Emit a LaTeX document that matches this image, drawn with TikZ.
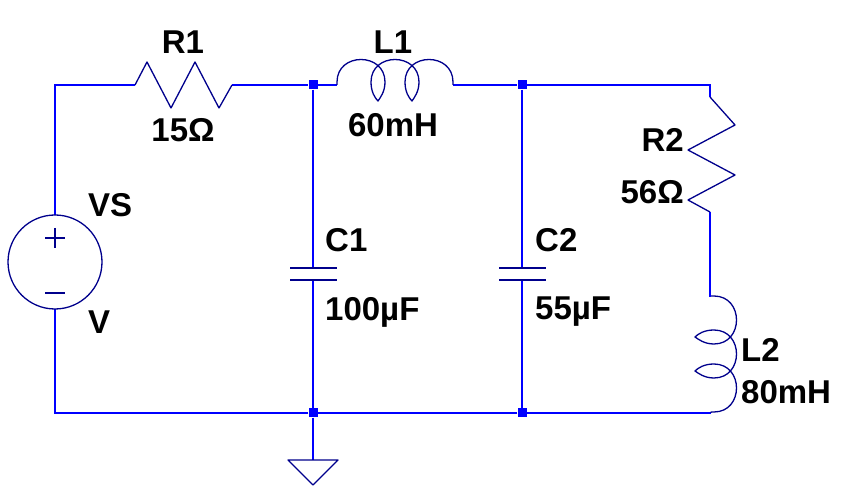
\documentclass[tikz,border=0pt]{standalone}
\usepackage{fontspec}
\setmainfont{Liberation Sans}
\begin{document}
\begin{tikzpicture}[x=1pt,y=-1pt,
  wire/.style={draw={rgb,255:red,0;green,0;blue,255},line width=1.3pt},
  comp/.style={draw={rgb,255:red,0;green,0;blue,140},line width=1.3pt,line join=round},
  lbl/.style={font=\fontsize{33}{36}\selectfont\bfseries,inner sep=0pt},
  dot/.style={fill={rgb,255:red,0;green,0;blue,255},minimum size=9pt,inner sep=0pt}]
\useasboundingbox (0,0) rectangle (855,502);
% junctions
\node[dot] (n1) at (313,85) {};
\node[dot] (n2) at (522,85) {};
\node[dot] (n3) at (313,413) {};
\node[dot] (n4) at (522,413) {};
% wires
\path[wire] (55,215) -- (55,85) -- (135,85);
\path[wire] (232,85) -- (n1) -- (337,85);
\path[wire] (453,85) -- (n2) -- (710,85) -- (710,97);
\path[wire] (710,212) -- (710,296) -- (711,296);
\path[wire] (711,413) -- (n4) -- (n3) -- (55,413) -- (55,309);
\path[wire] (n1) -- (313,268);
\path[wire] (313,280) -- (n3);
\path[wire] (n2) -- (522,268);
\path[wire] (522,280) -- (n4);
\path[wire] (n3) -- (313,460);
% R1
\path[comp] (135,85) -- (147,62) -- (171,108) -- (195,62) -- (219,108) -- (232,85);
% R2
\path[comp] (710,97) -- (735,125) -- (688,150) -- (735,175) -- (688,200) -- (710,212);
% L1
\path[comp] (337,85) -- (337,82) .. controls (337,52) and (385,52) .. (385,82)
  .. controls (385,92) and (380,98) .. (378,101) .. controls (375,98) and (371,92) .. (371,82)
  .. controls (371,52) and (419,52) .. (419,82)
  .. controls (419,92) and (414,98) .. (412,101) .. controls (409,98) and (405,92) .. (405,82)
  .. controls (405,52) and (453,52) .. (453,82) -- (453,85);
% L2
\path[comp] (711,296) -- (714,296) .. controls (744,296) and (744,344) .. (714,344)
  .. controls (704,344) and (698,339) .. (695,337) .. controls (698,334) and (704,330) .. (714,330)
  .. controls (744,330) and (744,378) .. (714,378)
  .. controls (704,378) and (698,373) .. (695,371) .. controls (698,368) and (704,364) .. (714,364)
  .. controls (744,364) and (744,412) .. (714,412) -- (711,412) -- (711,413);
% C1, C2
\path[comp] (290,268) -- (337,268) (290,280) -- (337,280);
\path[comp] (499,268) -- (546,268) (499,280) -- (546,280);
% source
\path[comp] (55,262) circle (47);
\path[comp] (45,238) -- (65,238) (55,228) -- (55,248);
\path[comp] (45,293) -- (65,293);
% ground
\path[comp] (288,460) -- (338,460) -- (313,485) -- cycle;
% labels
\node[lbl] (tR1) at (183,42) {R1};
\node[lbl] (vR1) at (183,130) {15Ω};
\node[lbl] (tL1) at (393,42) {L1};
\node[lbl] (vL1) at (393,125) {60mH};
\node[lbl,anchor=west] (tC1) at (325,240) {C1};
\node[lbl,anchor=west] (vC1) at (325,312) {100µF};
\node[lbl,anchor=west] (tC2) at (535,240) {C2};
\node[lbl,anchor=west] (vC2) at (535,312) {55µF};
\node[lbl,anchor=east] (tR2) at (684,140) {R2};
\node[lbl,anchor=east] (vR2) at (684,192) {56Ω};
\node[lbl,anchor=west] (tL2) at (741,350) {L2};
\node[lbl,anchor=west] (vL2) at (741,392) {80mH};
\node[lbl,anchor=west] (tVS) at (88,205) {VS};
\node[lbl,anchor=west] (tV) at (88,322) {V};
\end{tikzpicture}
\end{document}
